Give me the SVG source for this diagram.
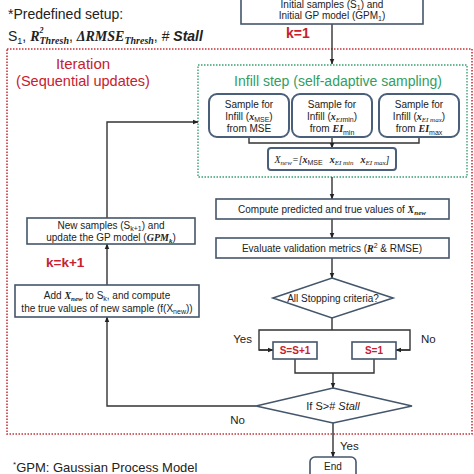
<svg xmlns="http://www.w3.org/2000/svg" width="474" height="474" viewBox="0 0 474 474">
<defs>
<marker id="ah" viewBox="0 0 10 10" refX="9" refY="5" markerWidth="6" markerHeight="6" orient="auto" markerUnits="userSpaceOnUse"><path d="M0,1 L10,5 L0,9 z" fill="#222"/></marker>
<style>
text{font-family:"Liberation Sans",Arial,sans-serif;fill:#222}
.t10{font-size:10px}
.box{fill:#fff;stroke:#44566b;stroke-width:1.6}
.rbox{fill:#fff;stroke:#4a5f7a;stroke-width:2}
.con{fill:none;stroke:#333;stroke-width:1.4}
.red{fill:#c8202c}
.grn{fill:#2f9e63}
.m{font-family:"Liberation Serif","Times New Roman",serif;font-style:italic;font-weight:bold}
.mi{font-family:"Liberation Serif","Times New Roman",serif;font-style:italic}
</style>
</defs>
<rect width="474" height="474" fill="#fff"/>

<g id="frames">
<rect x="7" y="49" width="465" height="385" fill="none" stroke="#c8323a" stroke-width="1.6" stroke-dasharray="1.5 1.5"/>
<rect x="198" y="65" width="269" height="112" fill="none" stroke="#3aa070" stroke-width="1.4" stroke-dasharray="1.5 1.5"/>
</g>

<g id="setup">
<text x="8" y="19" style="font-size:14px">*Predefined setup:</text>
<text x="8" y="41" style="font-size:14px">S<tspan dy="3" style="font-size:9px">1</tspan><tspan dy="-3">, </tspan><tspan class="m">R</tspan><tspan class="m" dy="-8" style="font-size:8px">2</tspan><tspan class="m" dx="-4" dy="11" style="font-size:10px">Thresh</tspan><tspan dy="-3">, </tspan><tspan class="m">ΔRMSE</tspan><tspan class="m" dy="3" style="font-size:10px">Thresh</tspan><tspan dy="-3">, # </tspan><tspan style="font-style:italic;font-weight:bold">Stall</tspan></text>
</g>

<g id="labels">
<text x="286" y="38" class="red" style="font-size:14px;font-weight:bold">k=1</text>
<text x="83" y="69" class="red" text-anchor="middle" style="font-size:15px">Iteration</text>
<text x="83" y="86" class="red" text-anchor="middle" style="font-size:14.5px">(Sequential updates)</text>
<text x="46" y="267" class="red" style="font-size:13.5px;font-weight:bold">k=k+1</text>
<text x="338" y="86" class="grn" text-anchor="middle" style="font-size:14px">Infill step (self-adaptive sampling)</text>
<text x="252" y="343" text-anchor="end" style="font-size:11.5px">Yes</text>
<text x="421" y="343" style="font-size:11.5px">No</text>
<text x="245" y="424" text-anchor="end" style="font-size:11.5px">No</text>
<text x="340" y="450" style="font-size:11.5px">Yes</text>
<text x="13" y="472" style="font-size:13px"><tspan dy="-5" style="font-size:8px">*</tspan><tspan dy="5">GPM: Gaussian Process Model</tspan></text>
</g>

<g id="connectors">
<line class="con" x1="332" y1="24" x2="332" y2="64" marker-end="url(#ah)"/>
<polyline class="con" points="249,137 249,143 419,143 419,137"/>
<line class="con" x1="332" y1="137" x2="332" y2="148" marker-end="url(#ah)"/>
<line class="con" x1="332" y1="177" x2="332" y2="199" marker-end="url(#ah)"/>
<line class="con" x1="332" y1="219" x2="332" y2="238" marker-end="url(#ah)"/>
<line class="con" x1="332" y1="258" x2="332" y2="278" marker-end="url(#ah)"/>
<line class="con" x1="332" y1="318" x2="332" y2="330"/>
<polyline class="con" points="273,350 259,350 259,330 410,330 410,350 396,350"/>
<line class="con" x1="259" y1="350" x2="273" y2="350" marker-end="url(#ah)"/>
<line class="con" x1="410" y1="350" x2="396" y2="350" marker-end="url(#ah)"/>
<polyline class="con" points="295,359 295,373 374,373 374,359"/>
<line class="con" x1="333" y1="373" x2="333" y2="388" marker-end="url(#ah)"/>
<polyline class="con" points="256,406 107,406 107,317" marker-end="url(#ah)"/>
<line class="con" x1="107" y1="285" x2="107" y2="244" marker-end="url(#ah)"/>
<polyline class="con" points="107,218 107,122 198,122" marker-end="url(#ah)"/>
<line class="con" x1="333" y1="423" x2="333" y2="457" marker-end="url(#ah)"/>
</g>

<g id="init">
<rect class="box" x="241" y="-6" width="182" height="30"/>
<text class="t10" x="332" y="8" text-anchor="middle">Initial samples (S<tspan dy="2" style="font-size:7px">1</tspan><tspan dy="-2">) and</tspan></text>
<text class="t10" x="332" y="19" text-anchor="middle">Initial GP model (GPM<tspan dy="2" style="font-size:7px">1</tspan><tspan dy="-2">)</tspan></text>
</g>

<g id="mse">
<rect class="rbox" x="209" y="94" width="80" height="43" rx="8"/>
<text class="t10" x="249" y="108" text-anchor="middle">Sample for</text>
<text class="t10" x="249" y="120" text-anchor="middle">Infill (<tspan class="m">x</tspan><tspan dy="2" style="font-size:7px">MSE</tspan><tspan dy="-2">)</tspan></text>
<text class="t10" x="249" y="132" text-anchor="middle">from MSE</text>
</g>

<g id="eimin">
<rect class="rbox" x="292" y="94" width="80" height="43" rx="8"/>
<text class="t10" x="332" y="108" text-anchor="middle">Sample for</text>
<text class="t10" x="332" y="120" text-anchor="middle">Infill (<tspan class="m">x</tspan><tspan class="mi" dy="2" style="font-size:7px">EI</tspan><tspan style="font-size:7px">min</tspan><tspan dy="-2">)</tspan></text>
<text class="t10" x="332" y="132" text-anchor="middle">from <tspan class="m">EI</tspan><tspan dy="3" style="font-size:7px">min</tspan></text>
</g>

<g id="eimax">
<rect class="rbox" x="379" y="94" width="80" height="43" rx="8"/>
<text class="t10" x="419" y="108" text-anchor="middle">Sample for</text>
<text class="t10" x="419" y="120" text-anchor="middle">Infill (<tspan class="m">x</tspan><tspan class="mi" dy="2" style="font-size:7px">EI max</tspan><tspan dy="-2">)</tspan></text>
<text class="t10" x="419" y="132" text-anchor="middle">from <tspan class="m">EI</tspan><tspan dy="3" style="font-size:7px">max</tspan></text>
</g>

<g id="xnew">
<rect class="rbox" x="268" y="148" width="128" height="22" rx="3"/>
<text x="332" y="163" text-anchor="middle" style="font-size:10px"><tspan class="mi">X</tspan><tspan class="mi" dy="2" style="font-size:7px">new</tspan><tspan class="mi" dy="-2">=[</tspan><tspan class="m">x</tspan><tspan dy="2" style="font-size:7px">MSE</tspan><tspan class="m" dx="7" dy="-2">x</tspan><tspan class="mi" dy="2" style="font-size:7px">EI min</tspan><tspan class="m" dx="7" dy="-2">x</tspan><tspan class="mi" dy="2" style="font-size:7px">EI max</tspan><tspan class="mi" dy="-2">]</tspan></text>
</g>

<g id="compute">
<rect class="box" x="216" y="199" width="233" height="20"/>
<text class="t10" x="332" y="213" text-anchor="middle">Compute predicted and true values of <tspan class="m">X</tspan><tspan class="m" dy="2" style="font-size:7px">new</tspan></text>
</g>

<g id="evaluate">
<rect class="box" x="216" y="238" width="233" height="20"/>
<text class="t10" x="332" y="252" text-anchor="middle">Evaluate validation metrics (<tspan class="m">R</tspan><tspan dy="-4" style="font-size:7px">2</tspan><tspan dy="4"> &amp; RMSE)</tspan></text>
</g>

<g id="stop">
<polygon class="box" points="332,278 393,298 332,318 273,298"/>
<text class="t10" x="333" y="302" text-anchor="middle">All Stopping criteria?</text>
</g>

<g id="splus">
<rect class="box" x="273" y="342" width="44" height="17"/>
<text x="295" y="354" text-anchor="middle" class="red" style="font-size:10px;font-weight:bold">S=S+1</text>
</g>

<g id="sone">
<rect class="box" x="352" y="342" width="44" height="17"/>
<text x="374" y="354" text-anchor="middle" class="red" style="font-size:10px;font-weight:bold">S=1</text>
</g>

<g id="stall">
<polygon class="box" points="333,388 412,406 333,423 256,406"/>
<text x="333" y="410" text-anchor="middle" style="font-size:11px">If S># <tspan style="font-style:italic">Stall</tspan></text>
</g>

<g id="end">
<rect class="box" x="310" y="457" width="46" height="24" rx="5"/>
<text class="t10" x="333" y="470" text-anchor="middle">End</text>
</g>

<g id="newsamples">
<rect class="box" x="27" y="218" width="168" height="26"/>
<text class="t10" x="111" y="229" text-anchor="middle">New samples (S<tspan dy="2" style="font-size:7px">k+1</tspan><tspan dy="-2">) and</tspan></text>
<text class="t10" x="111" y="241" text-anchor="middle">update the GP model (<tspan class="m">GPM</tspan><tspan class="m" dy="2" style="font-size:7px">k</tspan><tspan dy="-2">)</tspan></text>
</g>

<g id="add">
<rect class="box" x="15" y="285" width="184" height="32"/>
<text class="t10" x="107" y="299" text-anchor="middle">Add <tspan class="m">X</tspan><tspan class="m" dy="2" style="font-size:7px">new</tspan><tspan dy="-2"> to S</tspan><tspan dy="2" style="font-size:7px">k</tspan><tspan dy="-2">, and compute</tspan></text>
<text class="t10" x="107" y="312" text-anchor="middle">the true values of new sample (f(X<tspan dy="2" style="font-size:7px">new</tspan><tspan dy="-2">))</tspan></text>
</g>
</svg>
